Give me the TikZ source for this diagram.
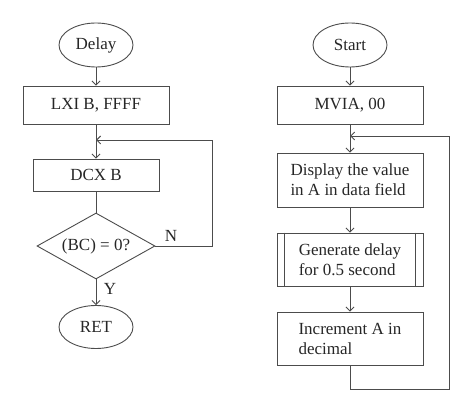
\documentclass[tikz,border=0pt]{standalone}
\usepackage{fontspec}
\setmainfont{Liberation Serif}
\usetikzlibrary{shapes.geometric,arrows.meta,calc}
\begin{document}
\begin{tikzpicture}[x=1pt,y=-1pt,
  line width=0.9pt,
  every node/.style={text=black!85, font=\fontsize{17}{20}\selectfont},
  ln/.style={draw=black!70},
  arr/.style={ln,-{Straight Barb[length=4pt,width=8pt]}},
  term/.style={ln,ellipse,minimum width=74pt,minimum height=44pt,inner sep=0pt},
  proc/.style={ln,rectangle,minimum width=146pt,inner sep=0pt},
  ptext/.style={proc,minimum height=53pt,align=left},
  dec/.style={ln,diamond,aspect=1.79,minimum width=118pt,minimum height=66pt,inner sep=0pt},
  lbl/.style={inner sep=0pt}]
\useasboundingbox (0,0) rectangle (474,403);
% left flowchart
\node[term] (delay) at (96,45) {Delay};
\node[proc,minimum height=38pt] (lxi) at (96,105) {LXI B, FFFF};
\node[proc,minimum width=126pt,minimum height=32pt] (dcx) at (96,175) {DCX B};
\node[dec] (dia) at (96,246) {(BC) = 0?};
\node[term,minimum height=43pt] (ret) at (96,327) {RET};
\node[lbl] (nl) at (171,236) {N};
\node[lbl] (yl) at (110,289) {Y};
\coordinate (cl1) at (212,140);
\coordinate (jl) at (96,140);
\draw[arr] (delay) -- (lxi);
\draw[arr] (lxi) -- (dcx);
\draw[ln] (dcx) -- (dia);
\draw[arr] (dia) -- (ret);
\draw[arr] (dia.east) -| (cl1) -- (jl);
% right flowchart
\node[term] (start) at (350,45) {Start};
\node[proc,minimum height=38pt] (mvi) at (350,105) {MVIA, 00};
\node[ptext,minimum height=54pt] (disp) at (350,180) {Display the value\\in A in data field};
\node[ptext] (gen) at (350,259.5) {Generate delay\\for 0.5 second};
\node[ptext] (inc) at (350,338.5) {Increment A in\\decimal};
\draw[ln] ($(gen.north west)+(8,0)$) -- ($(gen.south west)+(8,0)$);
\draw[ln] ($(gen.north east)+(-8,0)$) -- ($(gen.south east)+(-8,0)$);
\coordinate (br) at (449,389);
\coordinate (jr) at (350,136);
\draw[arr] (start) -- (mvi);
\draw[arr] (mvi) -- (disp);
\draw[arr] (disp) -- (gen);
\draw[arr] (gen) -- (inc);
\draw[arr] (inc.south) |- (br) |- (jr);
\end{tikzpicture}
\end{document}
